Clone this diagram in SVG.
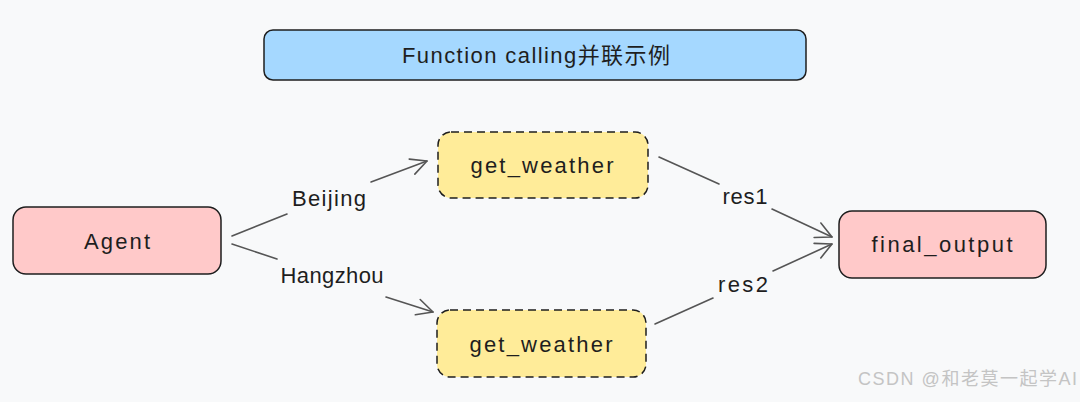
<svg xmlns="http://www.w3.org/2000/svg" width="1080" height="402" viewBox="0 0 1080 402">
  <defs>
    <marker id="arr" viewBox="0 0 20 20" refX="18" refY="10" markerWidth="20" markerHeight="20" markerUnits="userSpaceOnUse" orient="auto">
      <path d="M2,2 L18,10 L2,18" fill="none" stroke="#555" stroke-width="1.6" stroke-linecap="round" stroke-linejoin="round"/>
    </marker>
    <style>
      .lbl { font-family: "Liberation Sans", "Noto Sans CJK SC", sans-serif; font-size: 22px; fill: #1e1e1e; text-anchor: middle; dominant-baseline: central; }
      .edge { fill: none; stroke: #555; stroke-width: 1.6; stroke-linecap: round; }
      .box { stroke: #1e1e1e; stroke-width: 1.5; }
    </style>
  </defs>
  <rect width="1080" height="402" fill="#f8f9fa"/>

  <g id="title">
    <rect class="box" x="264" y="30" width="542" height="50" rx="9" fill="#a5d8ff" stroke-width="2"/>
    <text class="lbl" x="536" y="55" textLength="268" lengthAdjust="spacing">Function calling并联示例</text>
  </g>

  <g id="agent">
    <rect class="box" x="13" y="207" width="208" height="67" rx="13" fill="#ffc9c9" stroke="#444" stroke-width="1.2"/>
    <text class="lbl" x="117" y="241" textLength="66" lengthAdjust="spacing">Agent</text>
  </g>

  <g id="get_weather_1">
    <rect class="box" x="438" y="132" width="210" height="66" rx="13" fill="#ffec99" stroke-dasharray="8 5" stroke-width="2"/>
    <text class="lbl" x="542" y="165" textLength="143" lengthAdjust="spacing">get_weather</text>
  </g>

  <g id="get_weather_2">
    <rect class="box" x="437" y="310" width="209" height="67" rx="13" fill="#ffec99" stroke-dasharray="8 5" stroke-width="2"/>
    <text class="lbl" x="541" y="344" textLength="143" lengthAdjust="spacing">get_weather</text>
  </g>

  <g id="final_output">
    <rect class="box" x="839" y="211" width="207" height="67" rx="13" fill="#ffc9c9" stroke="#444" stroke-width="1.2"/>
    <text class="lbl" x="942" y="244" textLength="141" lengthAdjust="spacing">final_output</text>
  </g>

  <g id="connectors">
    <line class="edge" x1="232" y1="236" x2="287" y2="214"/>
    <line class="edge" x1="371" y1="182" x2="427" y2="161" marker-end="url(#arr)"/>
    <text class="lbl" x="329" y="198" textLength="74" lengthAdjust="spacing">Beijing</text>

    <line class="edge" x1="232" y1="244" x2="277" y2="259"/>
    <line class="edge" x1="386" y1="297" x2="433" y2="312" marker-end="url(#arr)"/>
    <text class="lbl" x="332" y="275" textLength="103" lengthAdjust="spacing">Hangzhou</text>

    <line class="edge" x1="659" y1="157" x2="719" y2="184"/>
    <line class="edge" x1="772" y1="209" x2="832" y2="237" marker-end="url(#arr)"/>
    <text class="lbl" x="745" y="196" textLength="45" lengthAdjust="spacing">res1</text>

    <line class="edge" x1="655" y1="324" x2="713" y2="298"/>
    <line class="edge" x1="773" y1="271" x2="832" y2="244" marker-end="url(#arr)"/>
    <text class="lbl" x="743" y="284" textLength="50" lengthAdjust="spacing">res2</text>
  </g>

  <text x="1077" y="385" font-family="Liberation Sans, Noto Sans CJK SC, sans-serif" font-size="18" fill="#c4c4c4" text-anchor="end" textLength="219" lengthAdjust="spacing">CSDN @和老莫一起学AI</text>
</svg>
